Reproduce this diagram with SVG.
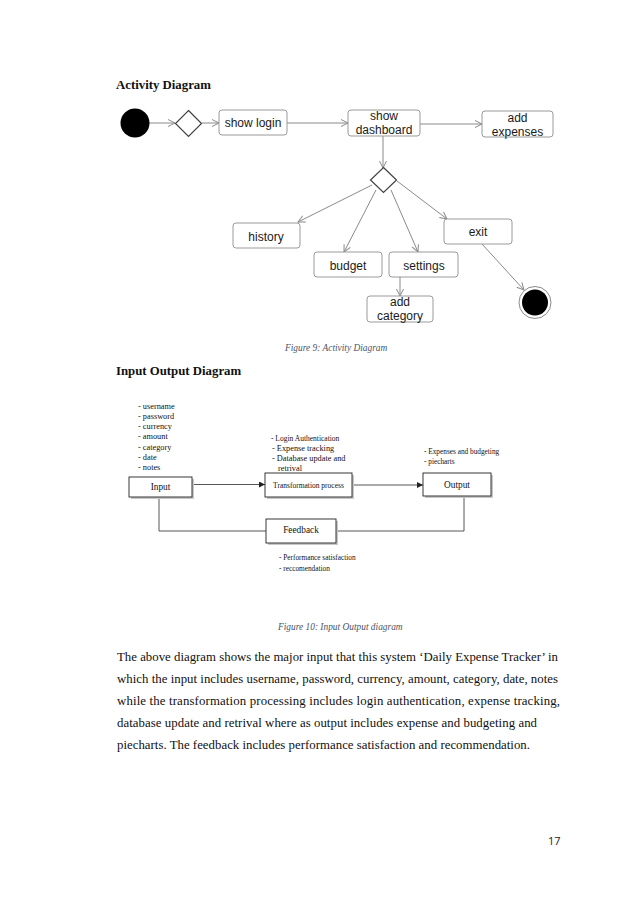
<svg xmlns="http://www.w3.org/2000/svg" width="638" height="902" viewBox="0 0 638 902">
<style>
  .h { font-family: "Liberation Serif", "Times New Roman", serif; font-weight: bold; font-size: 12.8px; fill: #111; }
  .cap { font-family: "Liberation Serif", "Times New Roman", serif; font-style: italic; font-size: 9.4px; fill: #4a5568; }
  .body { font-family: "Liberation Serif", "Times New Roman", serif; font-size: 12.8px; fill: #111; }
  .abox { fill: #fff; stroke: #9a9a9a; stroke-width: 1; }
  .alab { font-family: "Liberation Sans", Arial, sans-serif; font-size: 12px; fill: #1a1a1a; text-anchor: middle; }
  .dia { fill: #fff; stroke: #404040; stroke-width: 1.2; }
  .acon { stroke: #8a8a8a; stroke-width: 1; fill: none; }
  .iobox { fill: #fff; stroke: #222; stroke-width: 0.9; }
  .ioshadow { fill: #c8c8c8; }
  .iolab { font-family: "Liberation Serif", "Times New Roman", serif; font-size: 9.3px; fill: #111; text-anchor: middle; }
  .note { font-family: "Liberation Serif", "Times New Roman", serif; font-size: 8.3px; fill: #111; }
  .iocon { stroke: #444; stroke-width: 0.9; fill: none; }
  .pg { font-family: "Open Sans", "Liberation Sans", sans-serif; font-size: 11px; fill: #222; }
</style>
<defs>
  <marker id="open" markerWidth="10" markerHeight="10" refX="8" refY="4" orient="auto" markerUnits="userSpaceOnUse">
    <path d="M1,0.5 L8,4 L1,7.5" fill="none" stroke="#8a8a8a" stroke-width="1"/>
  </marker>
  <marker id="solid" markerWidth="8" markerHeight="8" refX="6" refY="3" orient="auto" markerUnits="userSpaceOnUse">
    <path d="M0,0 L6,3 L0,6 z" fill="#222"/>
  </marker>
</defs>
<rect width="638" height="902" fill="#fff"/>

<text class="h" x="116" y="88.5">Activity Diagram</text>

<g id="connectors-activity">
  <line class="acon" x1="149" y1="123" x2="175" y2="123" marker-end="url(#open)"/>
  <line class="acon" x1="202" y1="123" x2="219" y2="123" marker-end="url(#open)"/>
  <line class="acon" x1="287" y1="123" x2="348" y2="123" marker-end="url(#open)"/>
  <line class="acon" x1="420" y1="124" x2="482" y2="124" marker-end="url(#open)"/>
  <line class="acon" x1="383" y1="136" x2="383" y2="168" marker-end="url(#open)"/>
  <line class="acon" x1="372" y1="185" x2="298" y2="222" marker-end="url(#open)"/>
  <line class="acon" x1="376" y1="190" x2="344" y2="252" marker-end="url(#open)"/>
  <line class="acon" x1="391" y1="190" x2="418" y2="252" marker-end="url(#open)"/>
  <line class="acon" x1="397" y1="181" x2="447" y2="219" marker-end="url(#open)"/>
  <line class="acon" x1="400" y1="277" x2="400" y2="296" marker-end="url(#open)"/>
  <line class="acon" x1="482" y1="244" x2="524" y2="290" marker-end="url(#open)"/>
</g>

<g id="start"><circle cx="135" cy="123" r="14.5" fill="#000"/></g>
<g id="decision1"><polygon class="dia" points="188.5,110.5 201.5,123.5 188.5,136.5 175.5,123.5"/></g>
<g id="show-login"><rect class="abox" x="219" y="110" width="68" height="25" rx="3"/><text class="alab" x="253" y="127">show login</text></g>
<g id="show-dashboard"><rect class="abox" x="348" y="110" width="72" height="26" rx="3"/><text class="alab" x="384" y="120">show</text><text class="alab" x="384" y="134">dashboard</text></g>
<g id="add-expenses"><rect class="abox" x="482" y="111" width="71" height="26" rx="3"/><text class="alab" x="517.5" y="122">add</text><text class="alab" x="517.5" y="136">expenses</text></g>
<g id="decision2"><polygon class="dia" points="383.5,167.5 396.5,180 383.5,192.5 370.5,180"/></g>
<g id="history"><rect class="abox" x="233" y="223" width="67" height="25" rx="3"/><text class="alab" x="266" y="241">history</text></g>
<g id="budget"><rect class="abox" x="314" y="252" width="68" height="25" rx="3"/><text class="alab" x="348" y="270">budget</text></g>
<g id="settings"><rect class="abox" x="389" y="252" width="69" height="25" rx="3"/><text class="alab" x="424" y="270">settings</text></g>
<g id="exit"><rect class="abox" x="444" y="219" width="68" height="25" rx="3"/><text class="alab" x="478" y="236">exit</text></g>
<g id="add-category"><rect class="abox" x="367" y="296" width="66" height="26" rx="3"/><text class="alab" x="400" y="306">add</text><text class="alab" x="400" y="320">category</text></g>
<g id="end"><circle cx="535" cy="302.5" r="16" fill="#fff" stroke="#8a8a8a" stroke-width="1"/><circle cx="535" cy="302.5" r="13" fill="#000"/></g>

<text class="cap" x="285" y="351">Figure 9: Activity Diagram</text>

<text class="h" x="116" y="375">Input Output Diagram</text>

<g id="connectors-io">
  <line class="iocon" x1="192" y1="484.5" x2="265" y2="484.5" marker-end="url(#solid)"/>
  <line class="iocon" x1="352" y1="485" x2="423" y2="485" marker-end="url(#solid)"/>
  <polyline class="iocon" points="159,497 159,531 266,531"/>
  <polyline class="iocon" points="464,496 464,531 336,531"/>
</g>

<g id="input-notes">
  <text class="note" x="138" y="409">- username</text>
  <text class="note" x="138" y="419.2">- password</text>
  <text class="note" x="138" y="429.3">- currency</text>
  <text class="note" x="138" y="439.4">- amount</text>
  <text class="note" x="138" y="449.5">- category</text>
  <text class="note" x="138" y="459.6">- date</text>
  <text class="note" x="138" y="469.7">- notes</text>
</g>
<g id="input"><rect class="ioshadow" x="131" y="479" width="63" height="20"/><rect class="iobox" x="129" y="477" width="63" height="20"/><text class="iolab" x="160.5" y="490">Input</text></g>

<g id="transform-notes">
  <text class="note" x="271" y="440.5" style="font-size:7.5px">- Login Authentication</text>
  <text class="note" x="272" y="450.5">- Expense tracking</text>
  <text class="note" x="272" y="460.5">- Database update and</text>
  <text class="note" x="278" y="470.5">retrival</text>
</g>
<g id="transformation"><rect class="ioshadow" x="267" y="475" width="87" height="24"/><rect class="iobox" x="265" y="473" width="87" height="24"/><text class="iolab" x="308.5" y="487.5" style="font-size:7.5px">Transformation process</text></g>

<g id="output-notes">
  <text class="note" x="424" y="454" style="font-size:7.3px">- Expenses and budgeting</text>
  <text class="note" x="424" y="464" style="font-size:7.3px">- piecharts</text>
</g>
<g id="output"><rect class="ioshadow" x="425" y="475" width="68" height="23"/><rect class="iobox" x="423" y="473" width="68" height="23"/><text class="iolab" x="457" y="488">Output</text></g>

<g id="feedback"><rect class="ioshadow" x="268" y="521" width="70" height="24"/><rect class="iobox" x="266" y="519" width="70" height="24"/><text class="iolab" x="301" y="533">Feedback</text></g>
<g id="feedback-notes">
  <text class="note" x="279" y="559.5" style="font-size:7.3px">- Performance satisfaction</text>
  <text class="note" x="279" y="570.5" style="font-size:7.3px">- reccomendation</text>
</g>

<text class="cap" x="278" y="630">Figure 10: Input Output diagram</text>

<text class="body" x="117" y="661" textLength="441" lengthAdjust="spacing">The above diagram shows the major input that this system ‘Daily Expense Tracker’ in</text>
<text class="body" x="117" y="683" textLength="441" lengthAdjust="spacing">which the input includes username, password, currency, amount, category, date, notes</text>
<text class="body" x="117" y="705" textLength="443" lengthAdjust="spacing">while the transformation processing includes login authentication, expense tracking,</text>
<text class="body" x="117" y="727" textLength="420" lengthAdjust="spacing">database update and retrival where as output includes expense and budgeting and</text>
<text class="body" x="117" y="749" textLength="413" lengthAdjust="spacing">piecharts. The feedback includes performance satisfaction and recommendation.</text>

<text class="pg" x="548" y="845">17</text>
</svg>
